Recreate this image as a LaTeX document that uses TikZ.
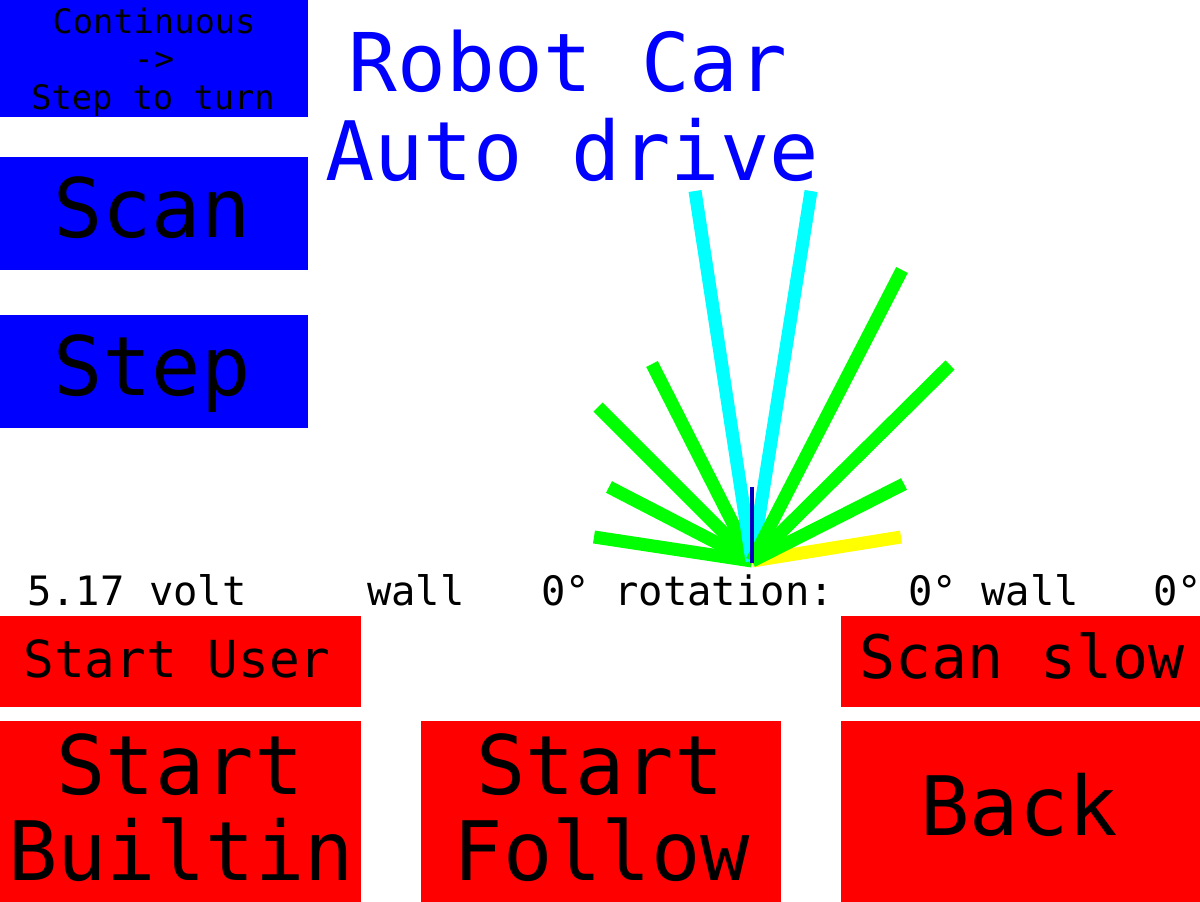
\documentclass[tikz,border=0pt]{standalone}
\usepackage{fontspec}
\setmainfont{DejaVu Sans Mono}
\definecolor{grn}{RGB}{0,255,0}
\definecolor{cy}{RGB}{0,255,255}
\definecolor{yl}{RGB}{255,255,0}
\definecolor{needle}{RGB}{0,0,190}
\newcommand{\fs}[1]{\fontsize{#1}{#1}\selectfont}
\tikzset{
 ray/.style={line width=13pt,line cap=butt},
 lbl/.style={inner sep=0pt,align=center,text=black,anchor=base},
 lblw/.style={inner sep=0pt,text=black,anchor=base west,font=\fs{40.5}},
}
\begin{document}
\begin{tikzpicture}[x=1pt,y=-1pt]
\useasboundingbox (0,0) rectangle (1200,902);
\fill[white] (0,0) rectangle (1200,902);
\fill[blue] (0,0) rectangle (308,117);
\fill[blue] (0,157) rectangle (308,270);
\fill[blue] (0,315) rectangle (308,428);
\fill[red] (0,616) rectangle (361,707);
\fill[red] (841,616) rectangle (1200,707);
\fill[red] (0,721) rectangle (361,902);
\fill[red] (421,721) rectangle (781,902);
\fill[red] (841,721) rectangle (1200,902);
\node[lbl,font=\fs{33.7}] (a1) at (154,34) {Continuous};
\node[lbl,font=\fs{33.7}] (a2) at (154,70) {->};
\node[lbl,font=\fs{33.7}] (a3) at (153,109) {Step to turn};
\node[lbl,font=\fs{82}] (b) at (152,237) {Scan};
\node[lbl,font=\fs{82}] (c) at (152,395) {Step};
\node[lbl,font=\fs{81},text=blue] (t1) at (568,91) {Robot Car};
\node[lbl,font=\fs{82},text=blue] (t2) at (572,180) {Auto drive};
\node[lblw] (s1) at (27,605) {5.17 volt};
\node[lblw] (s2) at (367,605) {wall};
\node[lblw] (s3) at (541,605) {0° rotation:};
\node[lblw] (s4) at (908,605) {0° wall};
\node[lblw] (s5) at (1153,605) {0°};
\node[lbl,font=\fs{51}] (d) at (177,677) {Start User};
\node[lbl,font=\fs{60}] (e) at (1022,678) {Scan slow};
\node[lbl,font=\fs{82}] (f1) at (180,794) {Start};
\node[lbl,font=\fs{82}] (f2) at (181,880) {Builtin};
\node[lbl,font=\fs{82}] (g1) at (600,794) {Start};
\node[lbl,font=\fs{82}] (g2) at (602,880) {Follow};
\node[lbl,font=\fs{82}] (h) at (1019,835) {Back};
\coordinate (o) at (752,561);
\draw[ray,yl] (o) -- (901,537);
\draw[ray,grn] (o) -- (594,537);
\draw[ray,grn] (o) -- (609,487);
\draw[ray,grn] (o) -- (598,407);
\draw[ray,grn] (o) -- (652,364);
\draw[ray,cy] (o) -- (695,191);
\draw[ray,cy] (o) -- (811,191);
\draw[ray,grn] (o) -- (902,270);
\draw[ray,grn] (o) -- (950,365);
\draw[ray,grn] (o) -- (904,484);
\coordinate (n) at (752,487);
\draw[line width=3.5pt,needle] (752,563) -- (n);
\end{tikzpicture}
\end{document}
